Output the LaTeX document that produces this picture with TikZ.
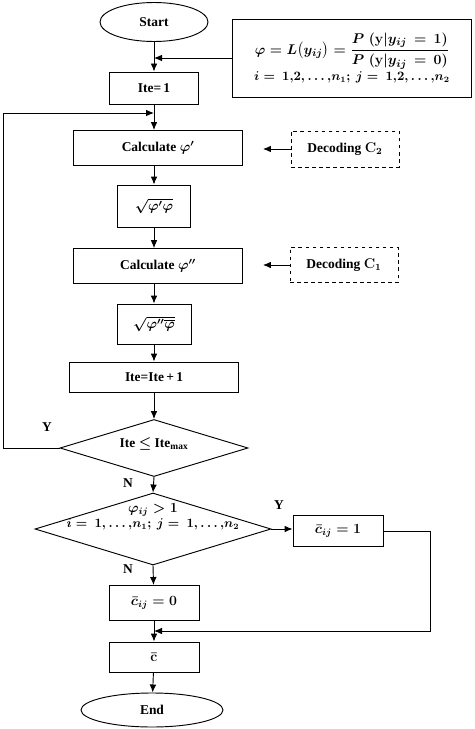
\documentclass[tikz,border=0pt]{standalone}
\usepackage{fontspec}
\usepackage{amsmath}
\usepackage{bm}
\usepackage{tikz}
\usetikzlibrary{arrows.meta, positioning, shapes.geometric, calc}
\setmainfont{Liberation Serif}

\begin{document}
\begin{tikzpicture}[
    x=0.03cm, y=-0.03cm,
    every node/.style={font=\fontsize{11.5}{14}\selectfont\bfseries\boldmath},
    box/.style 2 args={draw, line width=0.8pt, minimum width=#1, minimum height=#2, inner sep=2pt},
    dashbox/.style 2 args={box={#1}{#2}, dashed},
    term/.style 2 args={draw, ellipse, line width=0.8pt, minimum width=#1, minimum height=#2, inner sep=0pt},
    decision/.style 2 args={draw, diamond, line width=0.8pt, minimum width=#1, minimum height=#2, inner sep=0pt},
    flow/.style={draw, line width=0.8pt, -{Latex[length=2.4mm, width=2mm]}},
]
    \useasboundingbox (0,0) rectangle (474,729);

    % start and init
    \node[box={7.17cm}{2.34cm}, font=\fontsize{12.5}{15}\selectfont\boldmath, align=center] (lval) at (352,58) {
        $\bm{\varphi} = L\big(y_{ij}\big) = \dfrac{P\;(\mathbf{y}|y_{ij}\,=\,1)}{P\;(\mathbf{y}|y_{ij}\,=\,0)}$\\[1pt]
        {\fontsize{10.5}{13}\selectfont$i =\ 1{,}2{,}\ldots{,}n_1;\ j =\ 1{,}2{,}\ldots{,}n_2$}
    };
    \node[term={3.24cm}{1.17cm}] (start) at (154,22) {Start};
    \node[box={2.67cm}{0.96cm}] (ite1) at (154,88) {Ite=\,1};

    % iteration loop
    \node[box={5.07cm}{1.05cm}] (calc1) at (158,148) {Calculate $\bm{\varphi}'$};
    \node[dashbox={3.24cm}{1.08cm}] (dec2) at (345,149) {Decoding $\mathbf{C}_2$};
    \node[box={2.19cm}{1.26cm}] (sq1) at (154,206) {$\sqrt{\bm{\varphi}'\bm{\varphi}}$};
    \node[box={5.07cm}{1.04cm}] (calc2) at (158,266) {Calculate $\bm{\varphi}''$};
    \node[dashbox={3.24cm}{1.05cm}] (dec1) at (344,265) {Decoding $\mathbf{C}_1$};
    \node[box={2.22cm}{1.2cm}] (sq2) at (154,324) {$\sqrt{\bm{\varphi}''\overline{\bm{\varphi}}}$};
    \node[box={5.07cm}{0.9cm}] (inc) at (154,377) {Ite=Ite\,+\,1};
    \node[decision={5.64cm}{1.71cm}] (cmp) at (154,448) {};
    \node (cmptxt) at (154,444) {Ite $\leq$ Ite$_{\text{max}}$};

    % hard decision
    \node[decision={7.08cm}{2.16cm}] (chk) at (153,529) {};
    \node[font=\fontsize{10.5}{13}\selectfont\bfseries\boldmath, align=center] (chktxt) at (153,517)
        {{\fontsize{11.5}{13}\selectfont$\bm{\varphi}_{ij} > 1$}\\[0pt] $i =\ 1{,}\ldots{,}n_1;\ j =\ 1{,}\ldots{,}n_2$};
    \node[box={2.7cm}{0.93cm}] (c1) at (338,531) {$\bar{c}_{ij} = 1$};
    \node[box={2.7cm}{1.05cm}] (c0) at (154,603) {$\bar{c}_{ij} = 0$};
    \node[box={2.7cm}{0.9cm}] (cbar) at (154,657) {$\bar{\mathbf{c}}$};
    \node[term={4.26cm}{1.02cm}] (end) at (152,710) {End};

    % branch labels
    \node (y1) at (47,427) {Y};
    \node (n1) at (128,483) {N};
    \node (y2) at (279,505) {Y};
    \node (n2) at (128,569) {N};

    \coordinate (back) at (3,113);
    \coordinate (join) at (430,631);

    % connectors
    \draw[flow] (start) -- (ite1);
    \draw[flow] (lval.west) -- (lval.west -| start.south);
    \draw[flow] (ite1) -- (ite1 |- calc1.north);
    \draw[flow] (cmp.west) -| (back) -- (back -| ite1.south);
    \draw[flow, shorten >=0.6cm] (dec2.west) -- (calc1.east |- dec2.west);
    \draw[flow] (calc1.south -| sq1) -- (sq1);
    \draw[flow] (sq1) -- (sq1 |- calc2.north);
    \draw[flow, shorten >=0.6cm] (dec1.west) -- (calc2.east |- dec1.west);
    \draw[flow] (calc2.south -| sq2) -- (sq2);
    \draw[flow] (sq2) -- (inc);
    \draw[flow] (inc) -- (cmp);
    \draw[flow] (cmp.south) -- (chk.north);
    \draw[flow] (chk.east) -- (chk.east -| c1.west);
    \draw[flow] (chk.south) -- (c0);
    \draw[flow] (c1.east) -| (join) -- (join -| cbar.north);
    \draw[flow] (c0) -- (cbar);
    \draw[flow] (cbar) -- (end);
\end{tikzpicture}
\end{document}
